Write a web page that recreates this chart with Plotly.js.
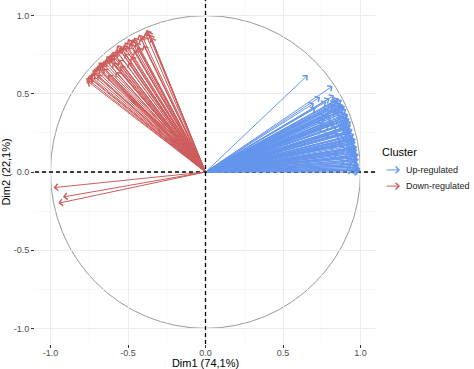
<!DOCTYPE html>
<html>
<head>
<meta charset="utf-8">
<script src="https://cdn.plot.ly/plotly-3.0.1.min.js"></script>
<style>html,body{margin:0;padding:0;background:#fff;}#chart{width:474px;height:369px;}</style>
</head>
<body>
<div id="chart"></div>
<script>
// Cluster names (legend)
var clusters = ["Up-regulated", "Down-regulated"];
var clusterColors = ["#6495ED", "#CD5C5C"];

// Up-regulated variables: coordinates on Dim1 / Dim2
var upDim1 = [0.66,0.82,0.74,0.83,0.86,0.88,0.87,0.85,0.90,0.91,0.89,0.92,0.90,0.93,0.92,0.94,0.93,0.95,0.94,0.96,
              0.95,0.96,0.97,0.96,0.97,0.98,0.97,0.98,0.99,0.98,0.99,0.99,1.00,0.97,0.95,0.71,0.82,0.84,0.86,0.88,
              0.90,0.92,0.93,0.94,0.95,0.96,0.80,0.85,0.88,0.70,0.78,0.80,0.75,0.90,0.89,0.91,0.93,0.87,0.84,0.97,
              0.98,0.99,0.96,0.92,0.94,0.81,0.77,0.83,0.86,0.89,
              0.99,0.98,0.98,0.97,0.97,0.96,0.96,0.95,0.94,0.93,0.92,0.91,0.90,0.89,0.88,0.86,0.85,0.99,1.00,0.99,
              0.98,0.97,0.96,0.95,0.94,0.93,0.92,0.91,0.90,0.88,0.87,0.85,0.83,0.80,0.78,0.82,0.85,0.87,0.89,0.91,
              0.93,0.94,0.76,0.80,0.84,0.86,0.90,0.95];
var upDim2 = [0.62,0.55,0.48,0.49,0.47,0.46,0.44,0.42,0.42,0.40,0.38,0.37,0.35,0.34,0.31,0.30,0.28,0.27,0.25,0.24,
              0.22,0.20,0.19,0.17,0.15,0.14,0.12,0.10,0.08,0.06,0.04,0.02,0.01,0.03,0.05,0.41,0.42,0.38,0.33,0.30,
              0.27,0.23,0.19,0.14,0.10,0.07,0.30,0.25,0.20,0.44,0.45,0.47,0.27,0.22,0.33,0.29,0.26,0.39,0.45,0.21,
              0.16,0.11,0.13,0.36,0.32,0.36,0.34,0.31,0.40,0.43,
              0.05,0.08,0.11,0.13,0.16,0.18,0.21,0.23,0.26,0.29,0.32,0.34,0.37,0.40,0.42,0.45,0.46,0.03,0.02,0.00,
              0.01,0.09,0.12,0.15,0.18,0.21,0.25,0.28,0.31,0.34,0.37,0.40,0.43,0.40,0.36,0.33,0.29,0.24,0.18,0.15,
              0.09,0.04,0.31,0.24,0.17,0.12,0.06,0.01];

// Down-regulated variables: coordinates on Dim1 / Dim2
var downDim1 = [-0.38,-0.39,-0.36,-0.41,-0.43,-0.46,-0.48,-0.50,-0.52,-0.53,-0.55,-0.56,-0.57,-0.58,-0.60,-0.61,-0.62,-0.63,-0.64,-0.65,
                -0.66,-0.67,-0.68,-0.69,-0.70,-0.71,-0.72,-0.73,-0.74,-0.75,-0.76,-0.77,-0.76,-0.56,-0.48,-0.44,-0.40,-0.52,-0.60,-0.66,
                -0.70,-0.35,-0.45,-0.62,
                -0.37,-0.42,-0.47,-0.49,-0.51,-0.54,-0.57,-0.59,-0.61,-0.64,-0.67,-0.69,-0.72,-0.74,-0.50,-0.55,-0.46,-0.58,-0.63,
                -0.98,-0.92,-0.95];
var downDim2 = [0.91,0.89,0.88,0.87,0.88,0.86,0.84,0.85,0.83,0.81,0.80,0.79,0.81,0.78,0.77,0.76,0.75,0.74,0.74,0.72,
                0.71,0.70,0.69,0.70,0.68,0.67,0.66,0.65,0.63,0.62,0.61,0.60,0.58,0.72,0.74,0.80,0.81,0.76,0.70,0.66,
                0.62,0.86,0.83,0.72,
                0.90,0.86,0.85,0.82,0.80,0.79,0.77,0.75,0.73,0.71,0.68,0.66,0.63,0.60,0.70,0.68,0.78,0.64,0.62,
                -0.10,-0.16,-0.20];

// Axis ticks
var tickVals = [-1, -0.5, 0, 0.5, 1];
var tickText = ["-1.0", "-0.5", "0.0", "0.5", "1.0"];
var xTitle = "Dim1 (74,1%)";
var yTitle = "Dim2 (22,1%)";
var legendTitle = "Cluster";

var FONT = "Liberation Sans, Arial, sans-serif";
var annotations = [];
function addArrows(xs, ys, color) {
  for (var i = 0; i < xs.length; i++) {
    annotations.push({
      x: xs[i], y: ys[i], xref: "x", yref: "y",
      ax: 0, ay: 0, axref: "x", ayref: "y",
      text: "", showarrow: true,
      arrowhead: 4, arrowsize: 1.3, arrowwidth: 1.0,
      arrowcolor: color, standoff: 0
    });
  }
}
addArrows(upDim1, upDim2, clusterColors[0]);
addArrows(downDim1, downDim2, clusterColors[1]);

// manual legend
annotations.push({
  xref: "paper", yref: "paper", x: 1.013, y: 0.558, xanchor: "left", yanchor: "middle",
  text: legendTitle, showarrow: false,
  font: {family: FONT, size: 11, color: "#000"}
});
var legY = [0.506, 0.459];
for (var k = 0; k < clusters.length; k++) {
  annotations.push({
    xref: "paper", yref: "paper", x: 1.0704, y: legY[k],
    ax: -15, ay: 0, text: "", showarrow: true,
    arrowhead: 4, arrowsize: 1.3, arrowwidth: 1.0, arrowcolor: clusterColors[k], standoff: 0
  });
  annotations.push({
    xref: "paper", yref: "paper", x: 1.082, y: legY[k], xanchor: "left", yanchor: "middle",
    text: clusters[k], showarrow: false,
    font: {family: FONT, size: 9, color: "#1a1a1a"}
  });
}

var data = [{x: [null], y: [null], type: "scatter", mode: "markers", showlegend: false, hoverinfo: "skip"}];

var axisCommon = {
  range: [-1.1, 1.1],
  tickmode: "array", tickvals: tickVals, ticktext: tickText,
  ticks: "outside", ticklen: 3, tickwidth: 1, tickcolor: "#333",
  tickfont: {family: FONT, size: 9, color: "#4d4d4d"},
  showgrid: true, gridcolor: "#ebebeb", gridwidth: 1,
  minor: {dtick: 0.25, tick0: 0, showgrid: true, gridcolor: "#f3f3f3", gridwidth: 0.6},
  zeroline: false, showline: false
};

var layout = {
  width: 474, height: 369,
  margin: {l: 35, r: 98, t: 0, b: 25},
  paper_bgcolor: "#fff", plot_bgcolor: "#fff",
  showlegend: false,
  xaxis: Object.assign({}, axisCommon, {
    ticklabelstandoff: -3,
    title: {text: xTitle, standoff: 0, font: {family: FONT, size: 11, color: "#000"}}
  }),
  yaxis: Object.assign({}, axisCommon, {
    title: {text: yTitle, standoff: 2, font: {family: FONT, size: 11, color: "#000"}}
  }),
  shapes: [
    {type: "circle", xref: "x", yref: "y", x0: -1, x1: 1, y0: -1, y1: 1,
     line: {color: "#999", width: 1}, layer: "below"},
    {type: "line", xref: "paper", yref: "y", x0: 0, x1: 1, y0: 0, y1: 0,
     line: {color: "#000", width: 1.3, dash: "4px,3px"}, layer: "above"},
    {type: "line", xref: "x", yref: "paper", x0: 0, x1: 0, y0: 0, y1: 1,
     line: {color: "#000", width: 1.3, dash: "4px,3px"}, layer: "above"}
  ],
  annotations: annotations
};

Plotly.newPlot("chart", data, layout, {displayModeBar: false, staticPlot: true});
</script>
</body>
</html>
